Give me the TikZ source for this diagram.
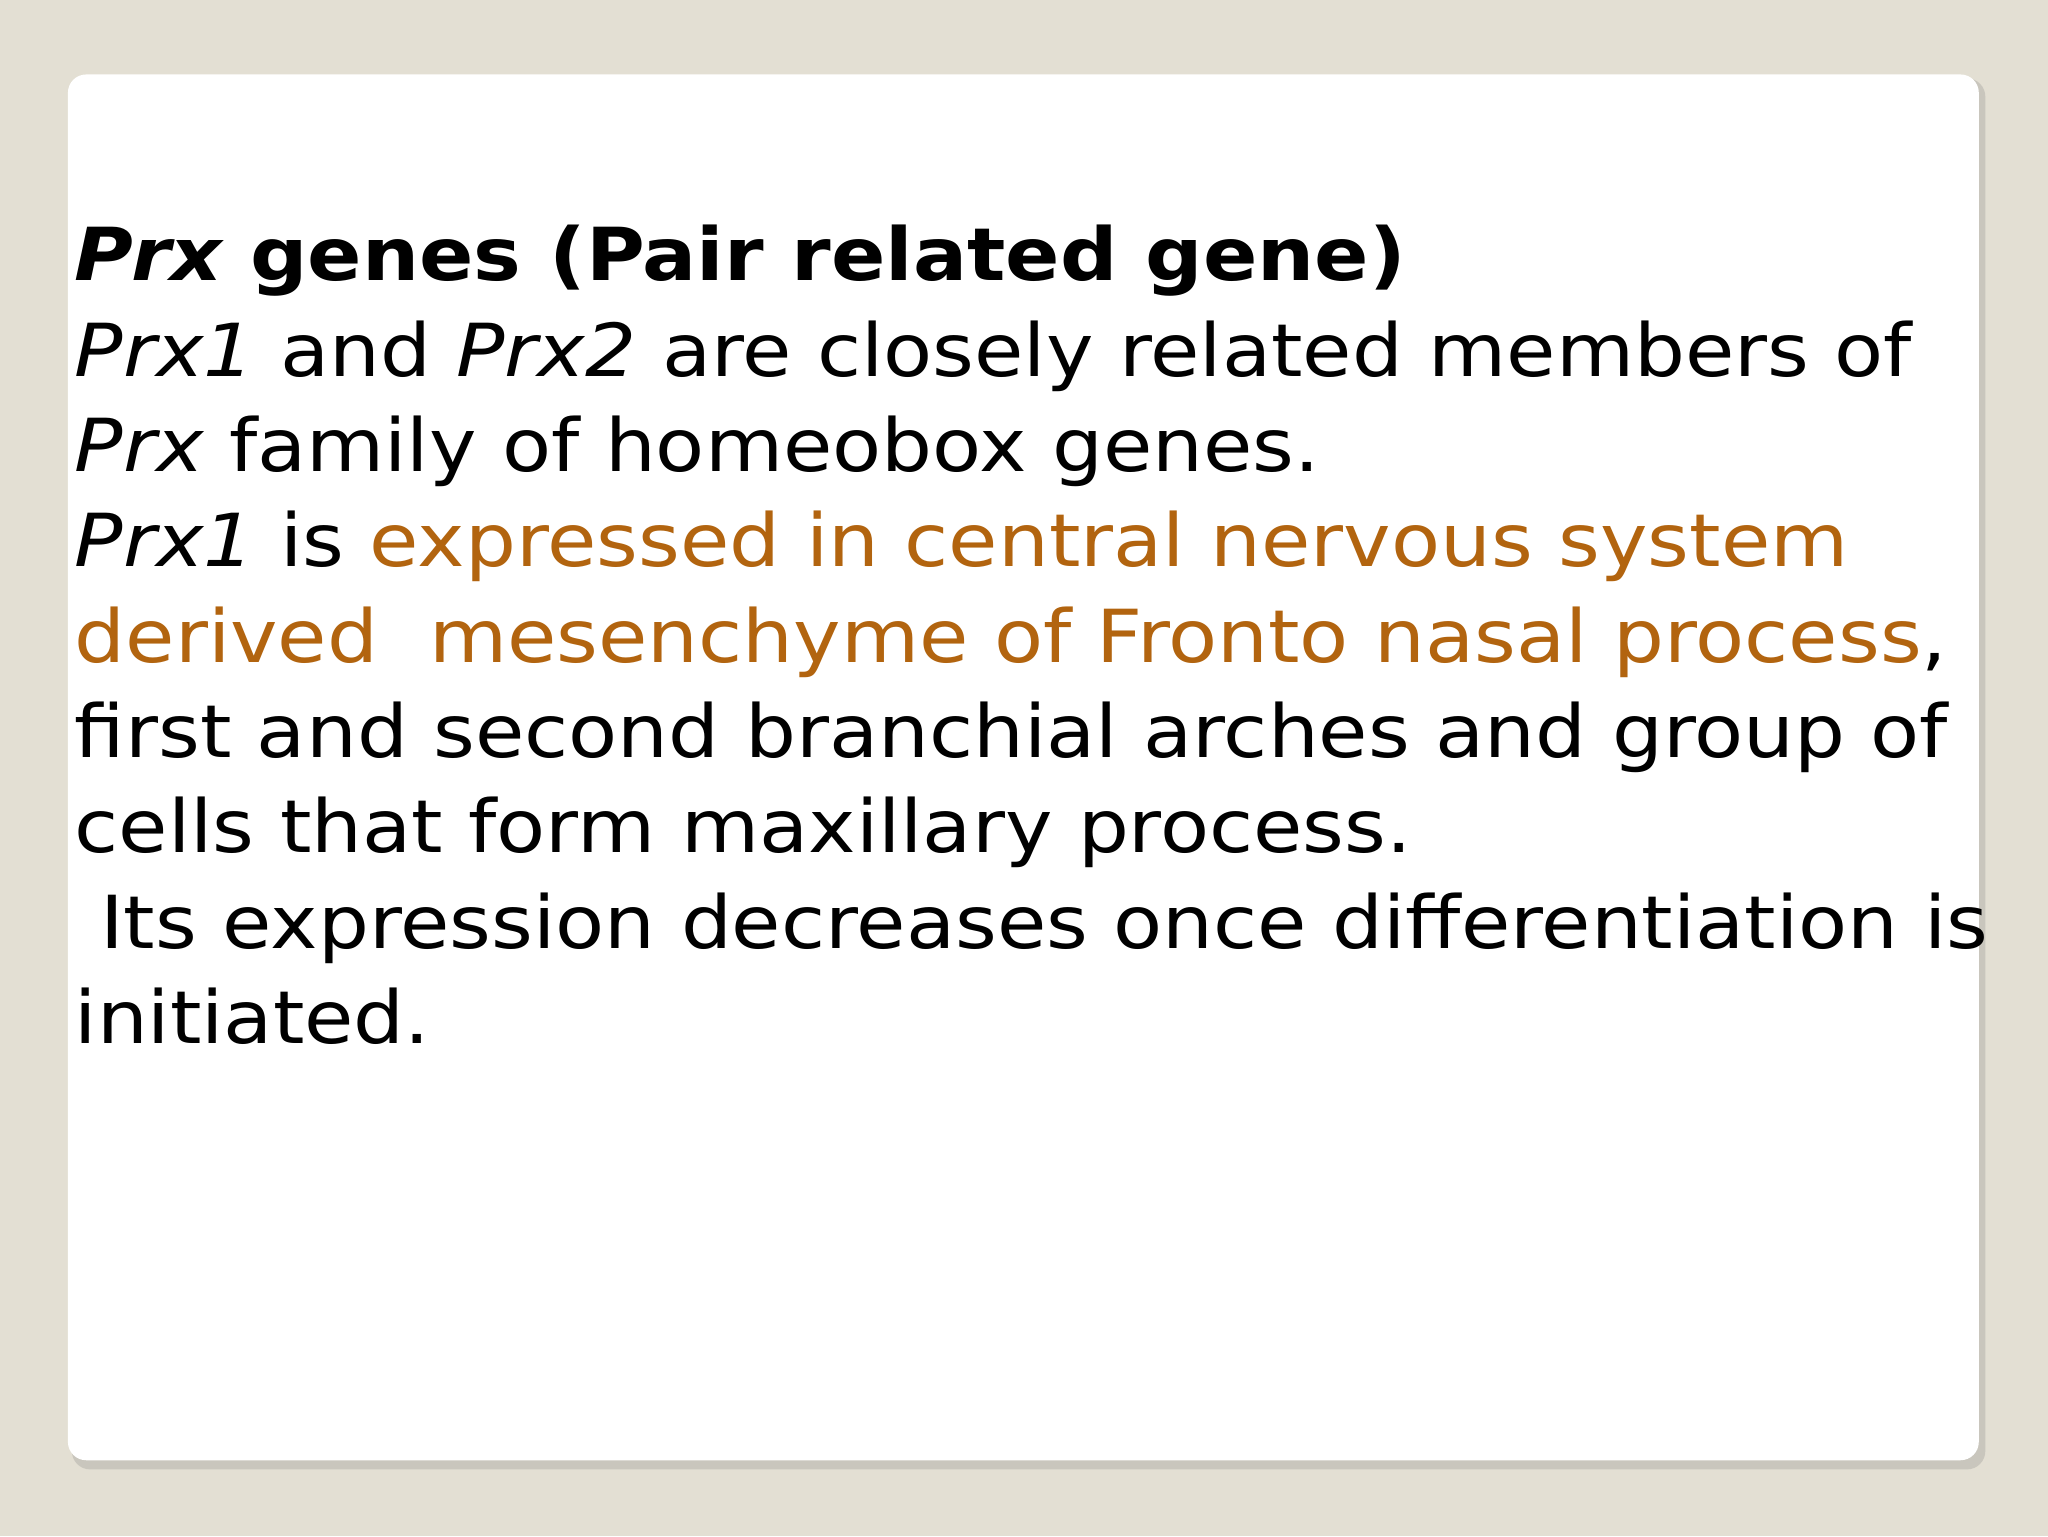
\documentclass[tikz,border=0pt]{standalone}
\usepackage{fontspec}
\setmainfont{DejaVu Sans}
\definecolor{bgc}{HTML}{E3DFD3}
\definecolor{orng}{HTML}{B2640F}
\definecolor{shad}{HTML}{C9C6BD}
\begin{document}
\begin{tikzpicture}[x=1pt,y=1pt,
  line/.style={anchor=base west,inner sep=0pt,xscale=1.097,transform shape,font=\fontsize{56}{56}\selectfont}]
\fill[bgc] (0,0) rectangle (1568,1176);
\useasboundingbox (0,0) rectangle (1568,1176);
\fill[shad,rounded corners=14] (55,51) rectangle (1520,1116);
\fill[white,rounded corners=14] (52,58) rectangle (1515,1119);
\node[line] (l1) at (57,1176-215) {\bfseries\itshape Prx\upshape\ genes (Pair related gene)};
\node[line] (l2) at (57,1176-288) {\itshape Prx1\upshape\ and \itshape Prx2\upshape\ are closely related members of};
\node[line] (l3) at (57,1176-361) {\itshape Prx\upshape\ family of homeobox genes.};
\node[line] (l4) at (57,1176-434) {\itshape Prx1\upshape\ is \textcolor{orng}{expressed in central nervous system}};
\node[line] (l5) at (57,1176-507) {\textcolor{orng}{derived\ \ mesenchyme of Fronto nasal process},};
\node[line] (l6) at (57,1176-580) {first and second branchial arches and group of};
\node[line] (l7) at (57,1176-653) {cells that form maxillary process.};
\node[line] (l8) at (57,1176-726) {\ Its expression decreases once differentiation is};
\node[line] (l9) at (57,1176-799) {initiated.};
\end{tikzpicture}
\end{document}
